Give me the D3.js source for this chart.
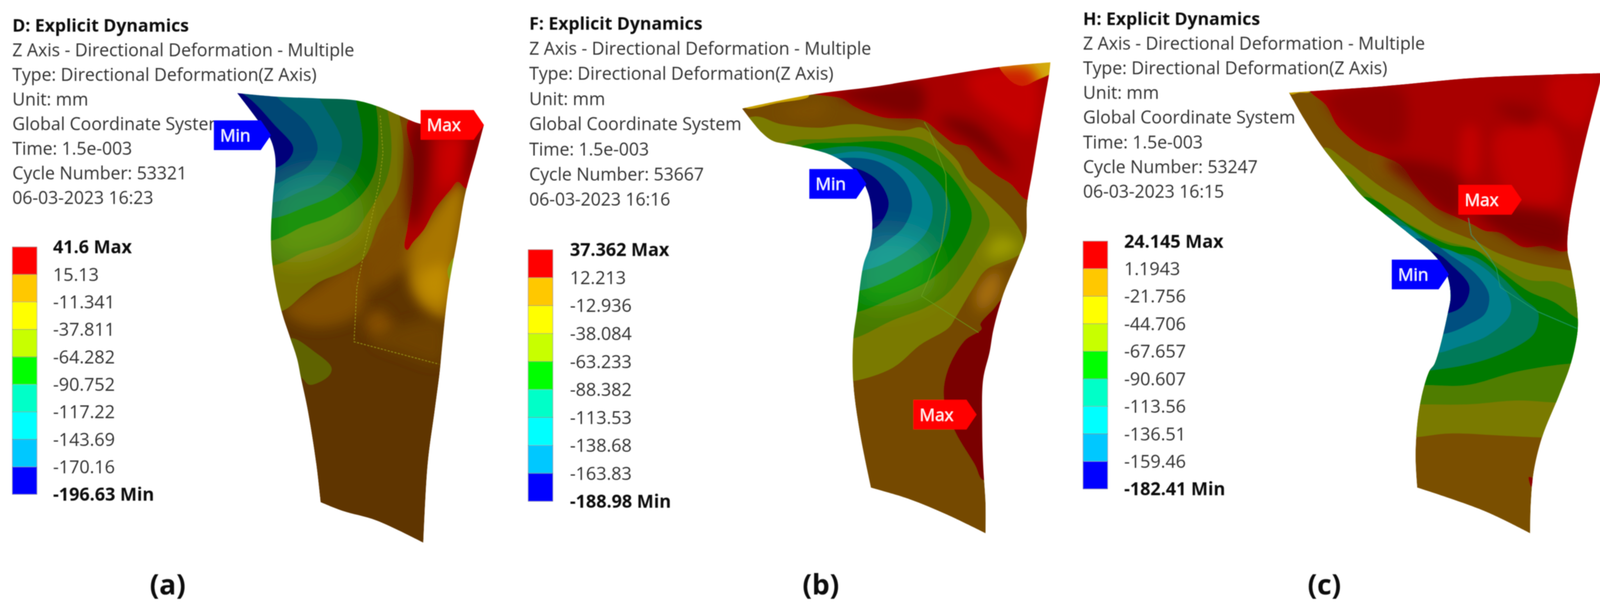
<!DOCTYPE html>
<html>
<head>
<meta charset="utf-8">
<script src="https://cdn.jsdelivr.net/npm/d3@7"></script>
<style>
  html, body { margin: 0; padding: 0; background: #fff; }
  svg { display: block; }
  text { font-family: "Open Sans", "Noto Sans", sans-serif; fill: #333; }
</style>
</head>
<body>
<div id="chart"></div>
<script>
var width = 4124, height = 1553;

// header lines and legend values of the three result plots
var aHeader = ["D: Explicit Dynamics", "Z Axis - Directional Deformation - Multiple", "Type: Directional Deformation(Z Axis)", "Unit: mm", "Global Coordinate System", "Time: 1.5e-003", "Cycle Number: 53321", "06-03-2023 16:23"];
var bHeader = ["F: Explicit Dynamics", "Z Axis - Directional Deformation - Multiple", "Type: Directional Deformation(Z Axis)", "Unit: mm", "Global Coordinate System", "Time: 1.5e-003", "Cycle Number: 53667", "06-03-2023 16:16"];
var cHeader = ["H: Explicit Dynamics", "Z Axis - Directional Deformation - Multiple", "Type: Directional Deformation(Z Axis)", "Unit: mm", "Global Coordinate System", "Time: 1.5e-003", "Cycle Number: 53247", "06-03-2023 16:15"];

var aTicks = ["41.6 Max", "15.13", "-11.341", "-37.811", "-64.282", "-90.752", "-117.22", "-143.69", "-170.16", "-196.63 Min"];
var bTicks = ["37.362 Max", "12.213", "-12.936", "-38.084", "-63.233", "-88.382", "-113.53", "-138.68", "-163.83", "-188.98 Min"];
var cTicks = ["24.145 Max", "1.1943", "-21.756", "-44.706", "-67.657", "-90.607", "-113.56", "-136.51", "-159.46", "-182.41 Min"];

// legend colours, max to min
var legendColors = ["#ff0000", "#ffc800", "#ffff00", "#c8ff00", "#00ff00", "#00ffc8", "#00ffff", "#00c8ff", "#0000ff"];

// blade outlines
var aOutline = [[120,80],[120,80],[320,98],[550,108],[750,118],[870,150],[1000,205],[1105,245],[1300,250],[1440,250],[1440,250],[1400,400],[1340,620],[1300,850],[1250,1130],[1215,1450],[1204,1568],[1177,1775],[1139,2065],[1116,2485],[1116,2485],[865,2366],[681,2314],[566,2268],[566,2268],[543,2065],[497,1775],[462,1609],[440,1500],[400,1380],[355,1240],[310,1010],[300,850],[310,650],[325,480],[320,400],[295,320],[230,225]];
var bOutline = [[-105,267],[-105,267],[250,195],[600,150],[850,110],[1270,45],[1545,20],[1545,20],[1540,70],[1500,300],[1450,600],[1420,780],[1415,950],[1380,1050],[1290,1270],[1240,1450],[1220,1568],[1185,1716],[1180,1964],[1185,2171],[1198,2378],[1198,2539],[1198,2539],[993,2440],[792,2357],[585,2295],[585,2295],[526,2005],[490,1736],[490,1500],[510,1350],[545,1100],[580,1000],[592,880],[570,720],[500,600],[380,520],[290,490],[150,460],[60,440],[0,395]];
var cOutline = [[0,120],[0,120],[110,112],[500,85],[1000,40],[1678,15],[1678,15],[1568,450],[1500,800],[1490,960],[1510,1060],[1540,1250],[1545,1380],[1530,1480],[1501,1590],[1446,1735],[1354,1963],[1309,2150],[1294,2315],[1290,2476],[1290,2476],[1043,2356],[686,2232],[686,2232],[677,2046],[699,1798],[750,1611],[780,1568],[850,1300],[865,1200],[840,1080],[770,980],[650,880],[500,760],[390,670],[290,550],[170,400],[80,260]];

// contour regions, painted in order over the base colour
var aContours = [
  [[985,190],[1010,400],[980,600],[880,770],[800,960],[700,1030],[560,1090],[470,1160],[360,1245],[200,1245],[-100,1245],[-100,-50],[900,-50]],
  [[925,180],[945,400],[915,550],[800,750],[750,820],[640,880],[480,930],[305,1005],[-100,1005],[-100,-50],[850,-50]],
  [[860,130],[875,350],[850,520],[770,640],[620,740],[480,790],[300,870],[-100,870],[-100,-50],[800,-50]],
  [[750,100],[790,350],[750,510],[640,620],[480,690],[305,750],[-100,750],[-100,-50],[700,-50]],
  [[550,90],[680,340],[640,470],[560,560],[450,610],[310,665],[-100,665],[-100,-50],[500,-50]],
  [[320,85],[500,250],[550,380],[500,470],[400,530],[320,565],[-100,565],[-100,-50],[250,-50]],
  [[120,70],[330,260],[420,370],[400,430],[325,480],[100,480],[-100,100]],
  [[1280,960],[1295,1060],[1262,1085],[1245,1030]],
  [[406,1392],[535,1465],[624,1548],[609,1593],[508,1640],[472,1609],[380,1500]],
  [[1040,220],[1500,220],[1400,400],[1345,590],[1300,555],[1260,600],[1180,700],[1120,810],[1060,880],[1030,920],[1015,905],[1030,800],[1060,600],[1065,450]]
];
var aColors = ["#767200", "#4a7400", "#007000", "#00664e", "#006672", "#064674", "#00007a", "#8c9a10", "#5f6400", "#ae0000"];
var bContours = [
  [[-40,310],[100,350],[300,370],[500,350],[750,385],[860,370],[960,460],[1050,550],[1100,640],[1200,720],[1350,870],[1400,970],[1385,1040],[1200,1130],[1130,1230],[1040,1380],[1000,1440],[850,1530],[700,1654],[480,1726],[300,1726],[-200,1000],[-200,400]],
  [[130,450],[330,430],[500,420],[850,430],[1000,540],[1100,680],[1220,880],[1150,1030],[1000,1250],[880,1330],[700,1400],[480,1500],[300,1500],[-200,1000],[0,600]],
  [[230,462],[430,450],[700,450],[950,570],[1080,720],[1125,840],[1060,1010],[920,1170],[700,1280],[495,1360],[300,1360],[-200,1000],[100,560]],
  [[300,488],[500,470],[780,530],[960,680],[1010,820],[960,1000],[800,1120],[525,1240],[300,1240],[150,520]],
  [[380,512],[560,500],[780,590],[890,720],[915,820],[880,930],[760,1040],[555,1130],[300,1130],[250,540]],
  [[420,532],[620,550],[760,650],[805,780],[760,900],[680,970],[580,1030],[300,1030],[300,560]],
  [[480,580],[620,650],[680,770],[650,860],[590,915],[300,915],[320,600]],
  [[250,180],[430,215],[500,260],[650,315],[860,330],[950,395],[1030,455],[1100,470],[1180,560],[1250,620],[1330,670],[1425,755],[1560,500],[1620,-20],[1000,-20]],
  [[1270,25],[1560,0],[1560,65],[1470,115],[1400,145],[1340,125]],
  [[-105,255],[80,220],[250,185],[250,204],[80,238],[-70,268]],
  [[1290,1290],[1240,1340],[1170,1420],[1176,1446],[1085,1509],[993,1674],[975,1819],[1030,1985],[1140,2171],[1185,2254],[1300,2200],[1350,1600]]
];
var bColors = ["#7a7a00", "#4a7a00", "#007e00", "#007a55", "#007f8c", "#00507f", "#00007c", "#a80000", "#d4ac08", "#c8a000", "#7a0000"];
var cContours = [
  [[110,100],[200,190],[260,300],[400,420],[500,460],[600,510],[680,620],[780,730],[880,780],[980,825],[1050,860],[1130,870],[1250,945],[1360,940],[1490,965],[1720,500],[1720,-20],[500,-20]],
  [[185,415],[300,480],[500,630],[650,720],[800,830],[1000,915],[1100,970],[1280,1030],[1500,1070],[1700,1100],[1700,1963],[1364,1963],[1135,1953],[860,1942],[660,1963],[400,1963],[100,700]],
  [[300,560],[400,640],[560,770],[800,900],[1000,960],[1130,1040],[1280,1120],[1420,1130],[1530,1170],[1700,1180],[1700,1777],[1428,1777],[1226,1766],[952,1787],[690,1787],[400,1787],[100,800]],
  [[390,675],[650,830],[850,930],[1000,960],[1120,1060],[1280,1180],[1420,1240],[1540,1325],[1700,1400],[1700,1570],[1501,1570],[1226,1611],[952,1684],[725,1684],[400,1684],[100,900]],
  [[500,770],[700,880],[850,970],[1000,1000],[1130,1100],[1250,1220],[1330,1290],[1330,1360],[1300,1420],[1100,1530],[790,1600],[400,1600],[100,1000]],
  [[600,830],[750,930],[880,970],[1060,1070],[1180,1220],[1180,1310],[1060,1420],[900,1480],[800,1510],[400,1500],[100,1000]],
  [[700,900],[880,1000],[1000,1090],[1070,1200],[1050,1300],[960,1360],[830,1410],[400,1420],[300,1000]],
  [[770,970],[880,1050],[960,1140],[965,1190],[930,1260],[850,1300],[400,1300],[400,1000]],
  [[1282,2175],[1302,2180],[1296,2230]],
  [[-10,105],[50,100],[110,98],[110,116],[50,120],[10,128]]
];
var cColors = ["#a80000", "#7a7a00", "#4f7d00", "#007a00", "#007a58", "#007f8c", "#005080", "#00007c", "#8c0000", "#c8a000"];

// soft shading under the contours
var aUnder = [[[985,190],[1100,230],[1100,950],[800,1000]], [[370,1240],[520,1130],[790,970],[780,1250],[520,1330]], [[800,1000],[1000,800],[1040,950],[960,1060],[820,1130]], [[1040,950],[1180,700],[1310,540],[1340,620],[1290,1000],[1230,1300],[1060,1150]], [[1100,1050],[1230,1000],[1220,1200],[1120,1170]], [[800,1300],[880,1240],[960,1350],[880,1400]], [[850,1400],[1210,1300],[1210,1520],[1000,1470]]];
var aUnderColors = ["#7f4d00", "#824f00", "#7d4c00", "#a97600", "#c08c00", "#855000", "#6e4200"];
var bUnder = [[[1150,1250],[1260,1130],[1270,1250],[1170,1350]], [[100,280],[350,230],[330,310],[150,320]]];
var bUnderColors = ["#a87008", "#7d5006"];
var cUnder = [[[470,460],[570,480],[560,540],[480,520]]];
var cUnderColors = ["#855a00"];

// soft shading on top of the contours
var aOver = [[[1060,240],[1130,240],[1110,700],[1050,800]], [[1370,300],[1440,250],[1350,560],[1330,500]], [[1220,330],[1320,330],[1300,520],[1220,600]]];
var aOverColors = ["#660000", "#700000", "#d20000"];
var bOver = [[[1100,100],[1450,60],[1450,400],[1250,300],[1130,200]], [[950,320],[1150,350],[1350,600],[1200,500]], [[400,190],[850,140],[850,300],[500,230]], [[1200,1060],[1260,950],[1380,1000],[1300,1060]]];
var bOverColors = ["#cc0000", "#6a0000", "#700000", "#a6a400"];
var cOver = [[[500,480],[900,560],[900,780],[700,650]], [[1100,350],[1400,300],[1450,700],[1200,700]], [[1000,750],[1480,800],[1480,950],[1200,900]], [[1100,180],[1320,200],[1300,290],[1150,240]], [[1400,30],[1650,30],[1570,300],[1400,200]], [[940,300],[1000,300],[1000,560],[940,560]], [[200,150],[600,100],[600,400],[400,350]]];
var cOverColors = ["#780000", "#c80000", "#700000", "#8a0000", "#c40000", "#cc0000", "#8c0000"];

// lit areas on the lower part of the contour bands
var aGlow = [[[320,580],[680,520],[800,780],[500,980],[310,950]]];
var bGlow = [[[560,950],[900,1000],[900,1250],[520,1300]]];
var cGlow = [];

// thin joint lines visible through the contours
var aSeam = [[885,200],[900,400],[880,560],[810,880],[760,1120],[745,1410],[1200,1530]];
var bSeam = [[870,340],[900,390],[985,620],[990,800],[960,1000],[890,1190],[855,1270],[1160,1465]];
var cSeam = [[960,790],[975,880],[1060,980],[1110,1060],[1130,1160],[1330,1290],[1540,1380]];

// min and max probes: label and tip position of each tag
var aTags = [["Min", 300, 305], ["Max", 1440, 250]];
var bTags = [["Min", 560, 670], ["Max", 1150, 1904]];
var cTags = [["Min", 855, 1092], ["Max", 1245, 692]];

var panels = [
  {id: "a", off: 0, cropX: 550, cropY: 200, caption: "(a)", capX: 490, textX: 36, textY: 65, lineStep: 63.7, legX: 36, legY: [638, 1277], tickX: 155, header: aHeader, ticks: aTicks, outline: aOutline, contours: aContours, colors: aColors, under: aUnder, underColors: aUnderColors, over: aOver, overColors: aOverColors, glow: aGlow, seam: aSeam, tags: aTags, base: "#5e3400", seamColor: "#a8a820", seamDash: "5 4"},
  {id: "b", off: 1374, cropX: 1950, cropY: 150, caption: "(b)", capX: 830, textX: -22, textY: 60, lineStep: 65, legX: -25, legY: [645, 1295], tickX: 97, header: bHeader, ticks: bTicks, outline: bOutline, contours: bContours, colors: bColors, under: bUnder, underColors: bUnderColors, over: bOver, overColors: bOverColors, glow: bGlow, seam: bSeam, tags: bTags, base: "#754a00", seamColor: "#6ca020", seamDash: null},
  {id: "c", off: 2748, cropX: 3300, cropY: 180, caption: "(c)", capX: 733, textX: 28, textY: 48, lineStep: 63.8, legX: 28, legY: [623, 1263], tickX: 148, header: cHeader, ticks: cTicks, outline: cOutline, contours: cContours, colors: cColors, under: cUnder, underColors: cUnderColors, over: cOver, overColors: cOverColors, glow: cGlow, seam: cSeam, tags: cTags, base: "#7a5000", seamColor: "#2aa070", seamDash: null}
];

var svg = d3.select("#chart").append("svg")
    .attr("width", width)
    .attr("height", height);

var defs = svg.append("defs");
defs.append("filter").attr("id", "soft").attr("x", "-5%").attr("y", "-5%").attr("width", "110%").attr("height", "110%")
    .append("feGaussianBlur").attr("stdDeviation", 1.3);
defs.append("filter").attr("id", "patch").attr("x", "-40%").attr("y", "-40%").attr("width", "180%").attr("height", "180%")
    .append("feGaussianBlur").attr("stdDeviation", 16);
defs.append("filter").attr("id", "glow").attr("x", "-40%").attr("y", "-40%").attr("width", "180%").attr("height", "180%")
    .append("feGaussianBlur").attr("stdDeviation", 34);

var root = svg.append("g").attr("filter", "url(#soft)");

panels.forEach(drawPanel);

function drawPanel(p) {
    var x = d3.scaleLinear().domain([0, 1568]).range([p.off, p.off + 1374]);
    var y = d3.scaleLinear().domain([0, 1568]).range([0, 1553]);
    var bx = d3.scaleLinear().domain([0, 1568]).range([p.cropX, p.cropX + 750]);
    var by = d3.scaleLinear().domain([0, 1568]).range([p.cropY, p.cropY + 750]);

    var closed = d3.line().x(function(d) { return bx(d[0]); }).y(function(d) { return by(d[1]); })
        .curve(d3.curveCatmullRomClosed.alpha(0.5));
    var seamLine = d3.line().x(function(d) { return bx(d[0]); }).y(function(d) { return by(d[1]); });

    var g = root.append("g");

    // header block
    g.selectAll(".head")
        .data(p.header)
        .enter().append("text")
        .attr("x", x(p.textX))
        .attr("y", function(d, i) { return y(p.textY + i * p.lineStep); })
        .attr("dy", "0.36em")
        .style("font-size", "45px")
        .style("font-weight", function(d, i) { return i == 0 ? 700 : 400; })
        .style("fill", function(d, i) { return i == 0 ? "#111" : "#333"; })
        .text(function(d) { return d; });

    // legend boxes
    var legend = d3.scaleBand()
        .domain(d3.range(legendColors.length))
        .range([y(p.legY[0]), y(p.legY[1])]);
    g.selectAll(".box")
        .data(legendColors)
        .enter().append("rect")
        .attr("x", x(p.legX))
        .attr("y", function(d, i) { return legend(i); })
        .attr("width", x(p.legX + 72) - x(p.legX))
        .attr("height", legend.bandwidth())
        .attr("fill", function(d) { return d; })
        .attr("stroke", "#777")
        .attr("stroke-width", 1);

    var tick = d3.scalePoint()
        .domain(d3.range(p.ticks.length))
        .range([y(p.legY[0]), y(p.legY[1])]);
    g.selectAll(".tick")
        .data(p.ticks)
        .enter().append("text")
        .attr("x", x(p.tickX))
        .attr("y", function(d, i) { return tick(i); })
        .attr("dy", "0.36em")
        .style("font-size", "46px")
        .style("font-weight", function(d, i) { return i == 0 || i == p.ticks.length - 1 ? 700 : 400; })
        .style("fill", function(d, i) { return i == 0 || i == p.ticks.length - 1 ? "#111" : "#333"; })
        .text(function(d) { return d; });

    // blade, clipped to its outline
    defs.append("clipPath").attr("id", "clip-" + p.id)
        .append("path").attr("d", closed(p.outline));
    var blade = g.append("g").attr("clip-path", "url(#clip-" + p.id + ")");
    blade.append("path").attr("d", closed(p.outline)).attr("fill", p.base);

    blade.selectAll(".under")
        .data(p.under)
        .enter().append("path")
        .attr("d", closed)
        .attr("fill", function(d, i) { return p.underColors[i]; })
        .attr("filter", "url(#patch)");
    blade.selectAll(".contour")
        .data(p.contours)
        .enter().append("path")
        .attr("d", closed)
        .attr("fill", function(d, i) { return p.colors[i]; });
    blade.selectAll(".over")
        .data(p.over)
        .enter().append("path")
        .attr("d", closed)
        .attr("fill", function(d, i) { return p.overColors[i]; })
        .attr("opacity", 0.8)
        .attr("filter", "url(#patch)");
    blade.selectAll(".glow")
        .data(p.glow)
        .enter().append("path")
        .attr("d", closed)
        .attr("fill", "#1c3c10")
        .attr("filter", "url(#glow)")
        .style("mix-blend-mode", "screen");
    blade.append("path")
        .attr("d", seamLine(p.seam))
        .attr("fill", "none")
        .attr("stroke", p.seamColor)
        .attr("stroke-width", 2)
        .attr("stroke-opacity", 0.75)
        .attr("stroke-dasharray", p.seamDash);

    // min and max tags
    p.tags.forEach(function(t) {
        var tx = bx(t[1]), ty = by(t[2]);
        var len = t[0] == "Min" ? 146 : 162;
        var tag = g.append("g");
        tag.append("path")
            .attr("d", d3.line()([[tx, ty], [tx - 26, ty - 38], [tx - len, ty - 38], [tx - len, ty + 38], [tx - 26, ty + 38]]) + "Z")
            .attr("fill", t[0] == "Min" ? "#0000ff" : "#ff0000");
        tag.append("text")
            .attr("x", tx - len + 16)
            .attr("y", ty)
            .attr("dy", "0.36em")
            .style("font-size", "44px")
            .style("fill", "#fff")
            .text(t[0]);
    });

    // caption
    g.append("text")
        .attr("x", x(p.capX))
        .attr("y", y(1510))
        .attr("dy", "0.36em")
        .attr("text-anchor", "middle")
        .style("font-size", "72px")
        .style("font-weight", 700)
        .style("fill", "#111")
        .text(p.caption);
}
</script>
</body>
</html>
